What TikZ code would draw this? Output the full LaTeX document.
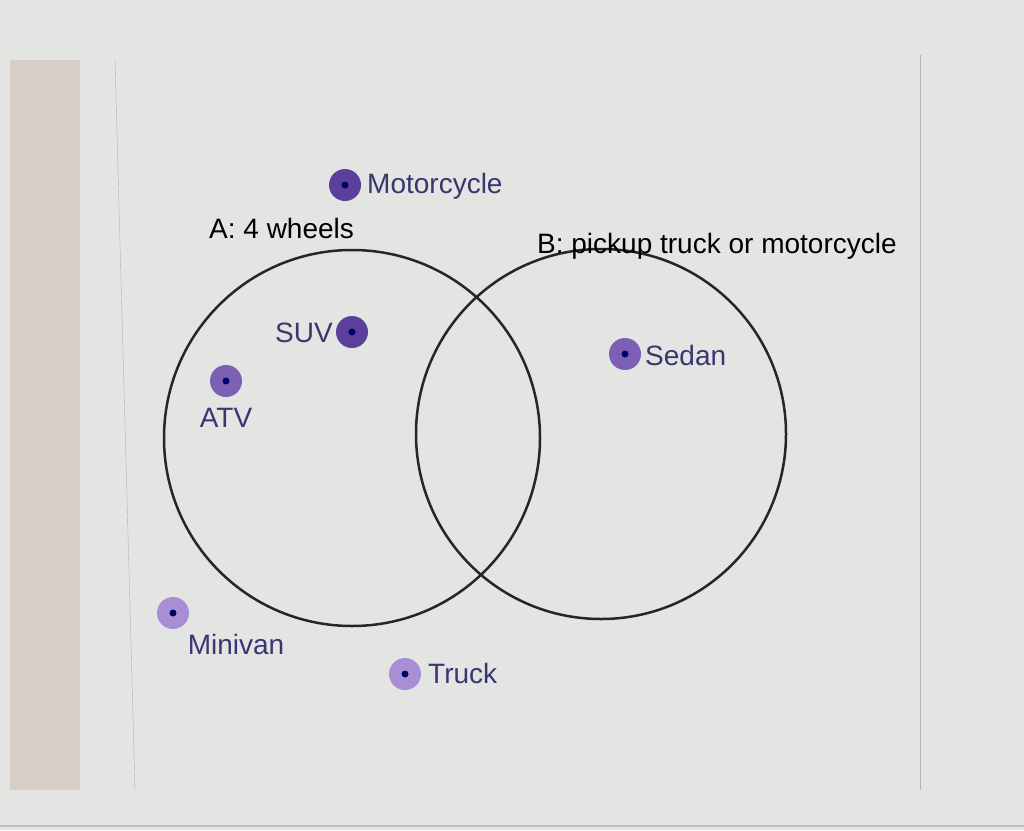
\documentclass[tikz,border=0pt]{standalone}
\usepackage{fontspec}
\setmainfont{Liberation Sans}
\begin{document}
\begin{tikzpicture}[x=1pt,y=-1pt,
  dotA/.style={circle,fill=#1,minimum size=32pt,inner sep=0pt},
  lbl/.style={font=\fontsize{28}{30}\selectfont,text=#1,inner sep=0pt},
  ven/.style={draw=black!85,line width=2.5pt}]
\definecolor{bg}{HTML}{E3E5E2}
\definecolor{strip}{HTML}{D8CEC8}
\definecolor{dk}{HTML}{5B3F9A}
\definecolor{md}{HTML}{7D5FB5}
\definecolor{lt}{HTML}{A98ED6}
\definecolor{txt}{HTML}{3B3570}
\useasboundingbox (0,0) rectangle (1024,830);
\fill[bg] (0,0) rectangle (1024,830);
\fill[strip] (10,60) rectangle (80,790);
\draw[gray!60] (115,60) -- (135,790);
\draw[gray!60] (920,55) -- (920,790);
\draw[gray!50,line width=2pt] (0,826) -- (1024,826);
\node[ven,circle,minimum size=376pt] (A) at (352,438) {};
\node[ven,circle,minimum size=370pt] (B) at (601,434) {};
\foreach \n/\x/\y/\c in {mc/345/185/dk, suv/352/332/dk, atv/226/381/md, sed/625/354/md, mini/173/613/lt, tr/405/674/lt}{
  \node[dotA=\c] (\n) at (\x,\y) {};
  \fill[blue!40!black] (\n) circle (3.5pt);
}
\node[lbl=txt,anchor=west] at (367,186) {Motorcycle};
\node[lbl=black,anchor=west] at (209,228) {A: 4 wheels};
\node[lbl=black,anchor=west] at (537,246) {B: pickup truck or motorcycle};
\node[lbl=txt,anchor=east] at (333,333) {SUV};
\node[lbl=txt] at (226,418) {ATV};
\node[lbl=txt,anchor=west] at (645,355) {Sedan};
\node[lbl=txt] at (236,644) {Minivan};
\node[lbl=txt,anchor=west] at (428,673) {Truck};
\end{tikzpicture}
\end{document}
